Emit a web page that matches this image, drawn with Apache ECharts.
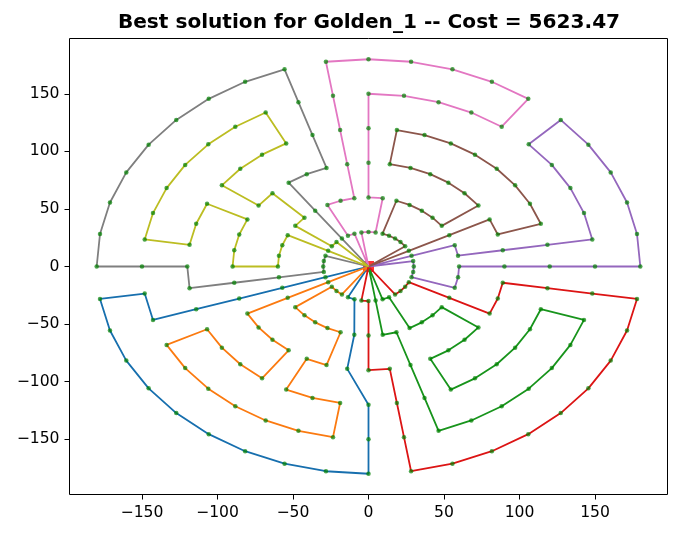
<!DOCTYPE html>
<html lang="en">
<head>
    <meta charset="UTF-8">
    <title>Best solution for Golden_1</title>
    <style>
        * {
            margin: 0;
            padding: 0;
        }

        .main {
            width: 680px;
            height: 535px;
        }
    </style>
</head>
<body>
<div id="main" class="main"></div>
<script src="https://cdn.jsdelivr.net/npm/echarts@6/dist/echarts.min.js"></script>
<script>
    var titleText = 'Best solution for Golden_1 -- Cost = 5623.47';
    var depot = [[0, 0]];
    var xTicks = [-150, -100, -50, 0, 50, 100, 150];
    var yTicks = [-150, -100, -50, 0, 50, 100, 150];

    // routes, each one starts and ends at the depot
    var routeBlue = [[0,0],[-28.5,-9.3],[-57.1,-18.5],[-85.6,-27.8],[-114.1,-37.1],[-142.7,-46.4],[-148.2,-23.5],[-177.8,-28.2],[-171.2,-55.6],[-160.4,-81.7],[-145.6,-105.8],[-127.3,-127.3],[-105.8,-145.6],[-81.7,-160.4],[-55.6,-171.2],[-28.2,-177.8],[0,-180],[0,-150],[0,-120],[-14.1,-88.9],[-9.4,-59.3],[-9.3,-28.5],[-13.6,-26.7],[0,0]];
    var routeOrange = [[0,0],[-17.6,-24.3],[-21.2,-21.2],[-24.3,-17.6],[-48.5,-35.3],[-42.4,-42.4],[-35.3,-48.5],[-27.2,-53.5],[-18.5,-57.1],[-27.8,-85.6],[-40.9,-80.2],[-54.5,-106.9],[-37.1,-114.1],[-18.8,-118.5],[-23.5,-148.2],[-46.4,-142.7],[-68.1,-133.7],[-88.2,-121.4],[-106.1,-106.1],[-121.4,-88.2],[-133.7,-68.1],[-106.9,-54.5],[-97.1,-70.5],[-84.9,-84.9],[-70.5,-97.1],[-52.9,-72.8],[-63.6,-63.6],[-72.8,-52.9],[-80.2,-40.9],[-53.5,-27.2],[-26.7,-13.6],[0,0]];
    var routeGreen = [[0,0],[9.3,-28.5],[13.6,-26.7],[27.2,-53.5],[35.3,-48.5],[42.4,-42.4],[48.5,-35.3],[72.8,-52.9],[63.6,-63.6],[52.9,-72.8],[40.9,-80.2],[54.5,-106.9],[70.5,-97.1],[84.9,-84.9],[97.1,-70.5],[106.9,-54.5],[114.1,-37.1],[142.7,-46.4],[133.7,-68.1],[121.4,-88.2],[106.1,-106.1],[88.2,-121.4],[68.1,-133.7],[46.4,-142.7],[37.1,-114.1],[27.8,-85.6],[18.5,-57.1],[9.4,-59.3],[4.7,-29.6],[0,0]];
    var routeRed = [[0,0],[-4.7,-29.6],[0,-30],[0,-60],[0,-90],[14.1,-88.9],[18.8,-118.5],[23.5,-148.2],[28.2,-177.8],[55.6,-171.2],[81.7,-160.4],[105.8,-145.6],[127.3,-127.3],[145.6,-105.8],[160.4,-81.7],[171.2,-55.6],[177.8,-28.2],[148.2,-23.5],[118.5,-18.8],[88.9,-14.1],[85.6,-27.8],[80.2,-40.9],[53.5,-27.2],[26.7,-13.6],[24.3,-17.6],[21.2,-21.2],[17.6,-24.3],[0,0]];
    var routePurple = [[0,0],[28.5,9.3],[57.1,18.5],[59.3,9.4],[88.9,14.1],[118.5,18.8],[148.2,23.5],[142.7,46.4],[133.7,68.1],[121.4,88.2],[106.1,106.1],[127.3,127.3],[145.6,105.8],[160.4,81.7],[171.2,55.6],[177.8,28.2],[180,0],[150,0],[120,0],[90,0],[60,0],[59.3,-9.4],[57.1,-18.5],[28.5,-9.3],[29.6,-4.7],[30,0],[29.6,4.7],[0,0]];
    var routeBrown = [[0,0],[24.3,17.6],[21.2,21.2],[17.6,24.3],[13.6,26.7],[9.3,28.5],[18.5,57.1],[27.2,53.5],[35.3,48.5],[42.4,42.4],[48.5,35.3],[72.8,52.9],[63.6,63.6],[52.9,72.8],[40.9,80.2],[27.8,85.6],[14.1,88.9],[18.8,118.5],[37.1,114.1],[54.5,106.9],[70.5,97.1],[84.9,84.9],[97.1,70.5],[106.9,54.5],[114.1,37.1],[85.6,27.8],[80.2,40.9],[53.5,27.2],[26.7,13.6],[0,0]];
    var routePink = [[0,0],[-4.7,29.6],[0,30],[4.7,29.6],[9.4,59.3],[0,60],[0,90],[0,120],[0,150],[23.5,148.2],[46.4,142.7],[68.1,133.7],[88.2,121.4],[105.8,145.6],[81.7,160.4],[55.6,171.2],[28.2,177.8],[0,180],[-28.2,177.8],[-23.5,148.2],[-18.8,118.5],[-14.1,88.9],[-9.4,59.3],[-18.5,57.1],[-27.2,53.5],[-13.6,26.7],[-9.3,28.5],[0,0]];
    var routeGray = [[0,0],[-17.6,24.3],[-35.3,48.5],[-52.9,72.8],[-40.9,80.2],[-27.8,85.6],[-37.1,114.1],[-46.4,142.7],[-55.6,171.2],[-81.7,160.4],[-105.8,145.6],[-127.3,127.3],[-145.6,105.8],[-160.4,81.7],[-171.2,55.6],[-177.8,28.2],[-180,0],[-150,0],[-120,0],[-118.5,-18.8],[-88.9,-14.1],[-59.3,-9.4],[-29.6,-4.7],[-30,0],[-29.6,4.7],[-28.5,9.3],[0,0]];
    var routeOlive = [[0,0],[-21.2,21.2],[-24.3,17.6],[-48.5,35.3],[-42.4,42.4],[-63.6,63.6],[-72.8,52.9],[-97.1,70.5],[-84.9,84.9],[-70.5,97.1],[-54.5,106.9],[-68.1,133.7],[-88.2,121.4],[-106.1,106.1],[-121.4,88.2],[-133.7,68.1],[-142.7,46.4],[-148.2,23.5],[-118.5,18.8],[-114.1,37.1],[-106.9,54.5],[-80.2,40.9],[-85.6,27.8],[-88.9,14.1],[-90,0],[-60,0],[-59.3,9.4],[-57.1,18.5],[-53.5,27.2],[-26.7,13.6],[0,0]];

    var routes = [routeBlue, routeOrange, routeGreen, routeRed, routePurple, routeBrown, routePink, routeGray, routeOlive];
    var routeColors = ['#176fae', '#fb7a10', '#18941c', '#dc1414', '#9467bd', '#8c564b', '#e377c2', '#7f7f7f', '#bcbd22'];

    var customers = [];
    routes.forEach(function (route) {
        customers = customers.concat(route.slice(1, -1));
    });

    function tickLabel(value) {
        return value < 0 ? '\u2212' + Math.abs(value) : String(value);
    }

    var fontFamily = '"DejaVu Sans", sans-serif';
    var series = [{
        type: 'scatter',
        data: depot,
        symbol: 'rect',
        symbolSize: 11,
        itemStyle: {color: '#ff0000'},
        z: 2
    }];
    routes.forEach(function (route, i) {
        series.push({
            type: 'line',
            data: route,
            showSymbol: false,
            lineStyle: {color: routeColors[i], width: 1.8},
            z: 3
        });
    });
    // customers sit on top of the route lines
    series.push({
        type: 'scatter',
        data: customers,
        symbol: 'circle',
        symbolSize: 4.5,
        itemStyle: {color: '#008000', opacity: 0.7},
        z: 4
    });

    function axisOf(ticks) {
        return {
            type: 'value',
            min: -198,
            max: 198,
            splitLine: {show: false},
            axisLine: {show: false, onZero: false},
            axisTick: {
                show: true,
                customValues: ticks,
                length: 5,
                lineStyle: {color: '#000', width: 1}
            },
            axisLabel: {
                customValues: ticks,
                formatter: tickLabel,
                color: '#000',
                fontFamily: fontFamily,
                fontSize: 15.6,
                margin: 10
            }
        };
    }

    var myChart = echarts.init(document.getElementById('main'), null, {renderer: 'canvas'});
    myChart.setOption({
        animation: false,
        title: {
            text: titleText,
            left: 364,
            top: 8,
            textAlign: 'center',
            textStyle: {
                color: '#000',
                fontFamily: fontFamily,
                fontWeight: 'bold',
                fontSize: 20.1
            }
        },
        grid: {
            show: true,
            left: 69.5,
            top: 38.5,
            width: 598,
            height: 456,
            borderColor: '#000',
            borderWidth: 1
        },
        xAxis: axisOf(xTicks),
        yAxis: axisOf(yTicks),
        series: series
    });
</script>
</body>
</html>
